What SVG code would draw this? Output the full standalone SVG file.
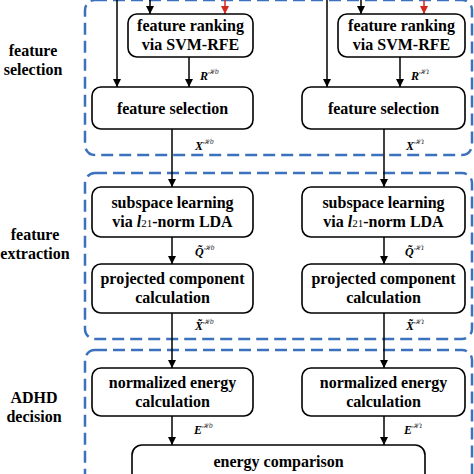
<svg xmlns="http://www.w3.org/2000/svg" width="474" height="474" viewBox="0 0 474 474">
<defs>
<marker id="ab" viewBox="0 0 10 10" refX="10" refY="5" markerWidth="8" markerHeight="8" markerUnits="userSpaceOnUse" orient="auto"><path d="M0,0 L10,5 L0,10 z" fill="#000"/></marker>
<marker id="ar" viewBox="0 0 10 10" refX="10" refY="5" markerWidth="8" markerHeight="8" markerUnits="userSpaceOnUse" orient="auto"><path d="M0,0 L10,5 L0,10 z" fill="#d42a1e"/></marker>
</defs>
<style>
.cont{fill:none;stroke:#3c72bd;stroke-width:2.5;stroke-dasharray:12 6}
.box{fill:#fff;stroke:#000;stroke-width:1.6}
.t{font-family:"Liberation Serif","Times New Roman",serif;font-weight:bold;font-size:16px;text-anchor:middle;fill:#000}
.side{font-family:"Liberation Serif","Times New Roman",serif;font-weight:bold;font-size:16px;text-anchor:middle;fill:#000}
.lab{font-family:"Liberation Serif","Times New Roman",serif;font-style:italic;font-weight:bold;font-size:12px;fill:#000}
.sup{font-size:7px;font-weight:normal}
.c{fill:none;stroke:#000;stroke-width:1.5}
.cr{fill:none;stroke:#d42a1e;stroke-width:1.5}
</style>
<rect width="474" height="474" fill="#fff"/>
<g id="containers">
<rect class="cont" x="85" y="0" width="387" height="155" rx="10"/>
<rect class="cont" x="85" y="173" width="387" height="166" rx="10"/>
<rect class="cont" x="85" y="350" width="387" height="140" rx="10"/>
</g>
<g id="side-labels">
<text class="side" x="33" y="56">feature</text>
<text class="side" x="33" y="75">selection</text>
<text class="side" x="35" y="240">feature</text>
<text class="side" x="35" y="259">extraction</text>
<text class="side" x="34" y="403">ADHD</text>
<text class="side" x="34" y="422">decision</text>
</g>
<g id="connectors">
<line class="c" x1="150" y1="0" x2="150" y2="14" marker-end="url(#ab)"/>
<line class="cr" x1="225" y1="0" x2="225" y2="14" marker-end="url(#ar)"/>
<line class="c" x1="361" y1="0" x2="361" y2="14" marker-end="url(#ab)"/>
<line class="cr" x1="424" y1="0" x2="424" y2="14" marker-end="url(#ar)"/>
<line class="c" x1="117" y1="0" x2="117" y2="87" marker-end="url(#ab)"/>
<line class="c" x1="327" y1="0" x2="327" y2="87" marker-end="url(#ab)"/>
<line class="c" x1="189" y1="57" x2="189" y2="87" marker-end="url(#ab)"/>
<line class="c" x1="400" y1="57" x2="400" y2="87" marker-end="url(#ab)"/>
<line class="c" x1="172" y1="129" x2="172" y2="187" marker-end="url(#ab)"/>
<line class="c" x1="384" y1="129" x2="384" y2="187" marker-end="url(#ab)"/>
<line class="c" x1="172" y1="237" x2="172" y2="264" marker-end="url(#ab)"/>
<line class="c" x1="384" y1="237" x2="384" y2="264" marker-end="url(#ab)"/>
<line class="c" x1="172" y1="313" x2="172" y2="368" marker-end="url(#ab)"/>
<line class="c" x1="384" y1="313" x2="384" y2="368" marker-end="url(#ab)"/>
<line class="c" x1="172" y1="416" x2="172" y2="445" marker-end="url(#ab)"/>
<line class="c" x1="384" y1="416" x2="384" y2="445" marker-end="url(#ab)"/>
<text class="lab" x="200" y="80">R<tspan class="sup" dy="-6">ℋ0</tspan></text>
<text class="lab" x="411" y="80">R<tspan class="sup" dy="-6">ℋ1</tspan></text>
<text class="lab" x="195" y="150">X<tspan class="sup" dy="-6">ℋ0</tspan></text>
<text class="lab" x="406" y="150">X<tspan class="sup" dy="-6">ℋ1</tspan></text>
<text class="lab" x="195" y="256">Q̃<tspan class="sup" dy="-6">ℋ0</tspan></text>
<text class="lab" x="405" y="256">Q̃<tspan class="sup" dy="-6">ℋ1</tspan></text>
<text class="lab" x="195" y="330">X̃<tspan class="sup" dy="-6">ℋ0</tspan></text>
<text class="lab" x="406" y="330">X̃<tspan class="sup" dy="-6">ℋ1</tspan></text>
<text class="lab" x="194" y="434" font-weight="normal" fill="#444">E<tspan class="sup" dy="-6">ℋ0</tspan></text>
<text class="lab" x="404" y="434" font-weight="normal" fill="#444">E<tspan class="sup" dy="-6">ℋ1</tspan></text>
</g>
<g id="rank0"><rect class="box" x="128" y="14" width="125" height="43" rx="9"/><text class="t" x="190.5" y="31">feature ranking</text><text class="t" x="190.5" y="50">via SVM-RFE</text></g>
<g id="rank1"><rect class="box" x="338" y="14" width="127" height="43" rx="9"/><text class="t" x="401.5" y="31">feature ranking</text><text class="t" x="401.5" y="50">via SVM-RFE</text></g>
<g id="sel0"><rect class="box" x="92" y="87" width="161" height="42" rx="9"/><text class="t" x="172.5" y="114">feature selection</text></g>
<g id="sel1"><rect class="box" x="302" y="87" width="163" height="42" rx="9"/><text class="t" x="383.5" y="114">feature selection</text></g>
<g id="sub0"><rect class="box" x="92" y="187" width="161" height="50" rx="9"/><text class="t" x="172.5" y="208">subspace learning</text><text class="t" x="172.5" y="227">via <tspan font-style="italic">l</tspan><tspan font-size="11" font-weight="normal">21</tspan>-norm LDA</text></g>
<g id="sub1"><rect class="box" x="302" y="187" width="163" height="50" rx="9"/><text class="t" x="383.5" y="208">subspace learning</text><text class="t" x="383.5" y="227">via <tspan font-style="italic">l</tspan><tspan font-size="11" font-weight="normal">21</tspan>-norm LDA</text></g>
<g id="proj0"><rect class="box" x="92" y="264" width="161" height="49" rx="9"/><text class="t" x="172.5" y="284">projected component</text><text class="t" x="172.5" y="303">calculation</text></g>
<g id="proj1"><rect class="box" x="302" y="264" width="163" height="49" rx="9"/><text class="t" x="383.5" y="284">projected component</text><text class="t" x="383.5" y="303">calculation</text></g>
<g id="norm0"><rect class="box" x="92" y="368" width="161" height="48" rx="9"/><text class="t" x="172.5" y="388">normalized energy</text><text class="t" x="172.5" y="407">calculation</text></g>
<g id="norm1"><rect class="box" x="302" y="368" width="163" height="48" rx="9"/><text class="t" x="383.5" y="388">normalized energy</text><text class="t" x="383.5" y="407">calculation</text></g>
<g id="cmp"><rect class="box" x="132" y="445" width="293" height="45" rx="10"/><text class="t" x="278.5" y="467">energy comparison</text></g>
</svg>
